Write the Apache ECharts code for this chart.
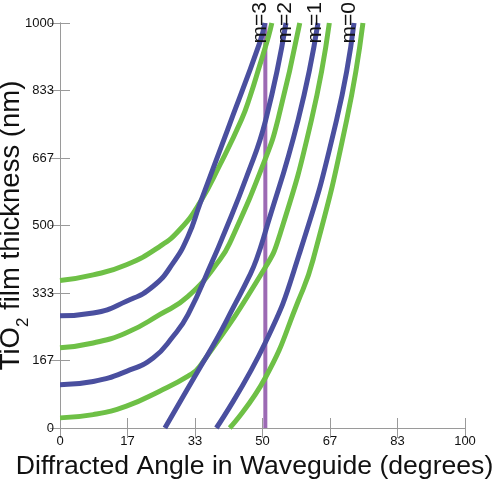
<!DOCTYPE html>
<html>
<head>
    <meta charset="utf-8" />
    <title>TiO2 waveguide modes</title>
    <script src="https://cdn.jsdelivr.net/npm/echarts@6/dist/echarts.min.js"></script>
    <style>
        *{margin:0;padding:0;}
        html,body{width:500px;height:479px;background:#fff;}
        #main{width:500px;height:479px;}
    </style>
</head>
<body>
<div id="main"></div>
<script type="text/javascript">
    // curves: [diffracted angle (deg), film thickness (nm)]
    var blue3 = [[0,277],[8.2,284],[16.4,313],[23,350],[27.9,407],[31.6,473],[34.5,552],[41.4,737],[49.3,951],[50.6,1000]];
    var blue2 = [[0,107],[8.2,115],[16.4,140],[23,173],[27.9,226],[31.6,280],[37.8,416],[39.9,465],[46.1,621],[50.8,761],[55.8,1000]];
    var blue1 = [[25.9,0],[30.4,78],[34.5,148],[38.6,218],[42.7,296],[46.9,378],[48.5,416],[50.6,481],[58.8,761],[63.7,1000]];
    var blue0 = [[38.6,0],[50.8,213],[59,427],[68.3,761],[72.6,1000]];

    var green3 = [[0,364],[8.2,378],[16.4,403],[24.6,448],[29.6,490],[34.5,556],[39.5,650],[44.8,761],[46.9,818],[49.3,895],[51.5,968],[52.3,1000]];
    var green2 = [[0,198],[8.2,210],[16.4,235],[24.6,280],[31.6,325],[39.5,416],[42.3,465],[50.6,662],[53.8,761],[59.2,1000]];
    var green1 = [[0,25],[8.2,33],[16.4,54],[24.6,91],[31.6,128],[34.5,152],[50.6,395],[54.3,478],[62.1,761],[66.5,1000]];
    var green0 = [[41.9,0],[50.7,124],[58.8,313],[62.5,416],[70.8,761],[74.8,1000]];

    var cutAngle = 50.7;           // vertical purple line
    var modeNames = ['m=3', 'm=2', 'm=1', 'm=0'];
    var modeLabelAngles = [49.5, 55.7, 62.9, 71.3];

    var xTickLabels = ['0', '17', '33', '50', '67', '83', '100'];
    var yTickLabels = ['0', '167', '333', '500', '667', '833', '1000'];

    var FONT = 'Liberation Sans, Arial, Helvetica, sans-serif';
    var BLUE = '#4a4f9f', GREEN = '#6ec046', PURPLE = '#9c6ab4', FRAME = '#9a9a9a';

    var myChart = echarts.init(document.getElementById('main'));

    function curve(data, color) {
        return {
            type: 'line',
            data: data,
            smooth: 0.5,
            showSymbol: false,
            clip: true,
            lineStyle: {color: color, width: 5},
            xAxisIndex: 0,
            yAxisIndex: 0
        };
    }

    var tickStyle = {show: true, inside: true, length: 10, lineStyle: {color: FRAME, width: 1}};

    var option = {
        animation: false,
        backgroundColor: '#fff',
        grid: {left: 60, right: 35, top: 23, bottom: 51, containLabel: false, outerBoundsMode: 'none'},
        xAxis: [{
            type: 'value', min: 0, max: 100, interval: 100 / 6,
            position: 'bottom',
            name: 'Diffracted Angle in Waveguide (degrees)',
            nameLocation: 'middle',
            nameGap: 25,
            nameMoveOverlap: false,
            nameTextStyle: {fontSize: 26.6, fontFamily: FONT, color: '#111', padding: [0, 16, 0, 0]},
            axisLine: {show: true, lineStyle: {color: FRAME, width: 1}},
            axisTick: tickStyle,
            splitLine: {show: false},
            axisLabel: {
                margin: 7, fontSize: 13, fontFamily: FONT, color: '#111',
                formatter: function (v) { return xTickLabels[Math.round(v / (100 / 6))]; }
            }
        }, {
            type: 'value', min: 0, max: 100, interval: 100 / 6,
            position: 'top',
            axisLine: {show: true, lineStyle: {color: FRAME, width: 1}},
            axisTick: tickStyle,
            splitLine: {show: false},
            axisLabel: {show: false}
        }],
        yAxis: [{
            type: 'value', min: 0, max: 1000, interval: 1000 / 6,
            position: 'left',
            name: '{a|TiO}{s|2}{a| film thickness (nm)}',
            nameLocation: 'middle',
            nameGap: 28,
            nameMoveOverlap: false,
            nameTextStyle: {
                fontSize: 27.5, fontFamily: FONT, color: '#111',
                rich: {
                    a: {fontSize: 27.5, fontFamily: FONT, color: '#111', lineHeight: 28,
                        verticalAlign: 'bottom', padding: [0, 0, 7, 0]},
                    s: {fontSize: 17, fontFamily: FONT, color: '#111', lineHeight: 17,
                        verticalAlign: 'bottom'}
                }
            },
            axisLine: {show: true, lineStyle: {color: FRAME, width: 1}},
            axisTick: tickStyle,
            splitLine: {show: false},
            axisLabel: {
                margin: 6, fontSize: 13, fontFamily: FONT, color: '#111',
                formatter: function (v) { return yTickLabels[Math.round(v / (1000 / 6))]; }
            }
        }, {
            type: 'value', min: 0, max: 1000, interval: 1000 / 6,
            position: 'right',
            axisLine: {show: true, lineStyle: {color: FRAME, width: 1}},
            axisTick: tickStyle,
            splitLine: {show: false},
            axisLabel: {show: false}
        }],
        series: [
            {
                type: 'line',
                data: [[cutAngle, 0], [cutAngle, 1000]],
                showSymbol: false,
                lineStyle: {color: PURPLE, width: 4},
                xAxisIndex: 0, yAxisIndex: 0
            },
            curve(green3, GREEN), curve(green2, GREEN), curve(green1, GREEN), curve(green0, GREEN),
            curve(blue3, BLUE), curve(blue2, BLUE), curve(blue1, BLUE), curve(blue0, BLUE)
        ]
    };

    myChart.setOption(option);

    // rotated mode labels sitting over the top edge
    var labels = modeNames.map(function (name, i) {
        var p = myChart.convertToPixel({gridIndex: 0}, [modeLabelAngles[i], 1000]);
        return {
            type: 'text',
            x: p[0], y: 2,
            rotation: Math.PI / 2,
            z: 100,
            style: {text: name, fontSize: 21, fontFamily: FONT, fill: '#111',
                    align: 'right', verticalAlign: 'middle'}
        };
    });
    myChart.setOption({graphic: labels});
</script>
</body>
</html>
